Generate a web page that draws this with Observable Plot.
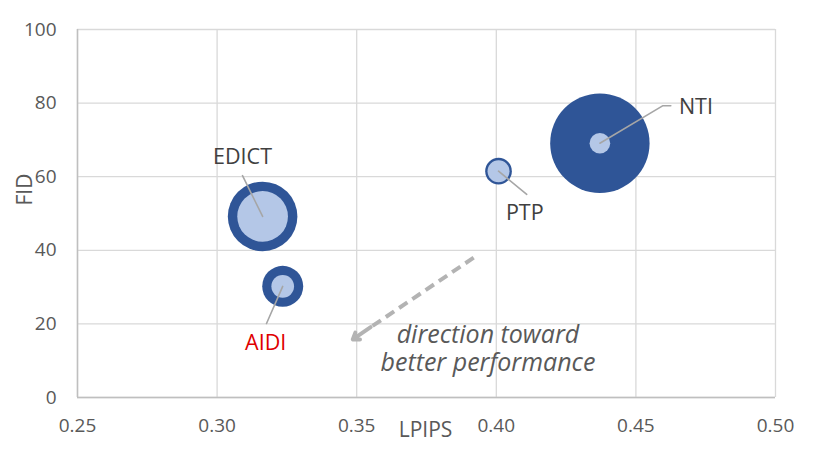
<!DOCTYPE html>
<html>
<head>
<meta charset="utf-8">
<script src="https://cdn.jsdelivr.net/npm/d3@7"></script>
<script src="https://cdn.jsdelivr.net/npm/@observablehq/plot@0.6"></script>
<style>
  html, body { margin: 0; padding: 0; background: #fff; }
  #chart svg { display: block; }
</style>
</head>
<body>
<div id="chart"></div>
<script>
// ---- data ----
const methods = ["EDICT", "AIDI", "PTP", "NTI"];
const lpips = [0.3163, 0.3235, 0.4008, 0.4371];
const fid = [49.2, 30.2, 61.5, 69.1];
const outerSize = [49, 17, 7.2, 100];   // dark bubble size
const innerSize = [26, 5.2, 4.9, 4.3];  // light bubble size
const labelColors = ["#404040", "#E00000", "#404040", "#404040"];
const xTicks = [0.25, 0.30, 0.35, 0.40, 0.45, 0.50];
const yTicks = [0, 20, 40, 60, 80, 100];

// annotation anchors (data units)
const labelX = [0.3091, 0.3174, 0.4102, 0.4715];
const labelY = [65.2, 14.7, 50.0, 78.8];
const leaderX = [[0.3091, 0.3163], [0.3177, 0.3235], [0.4109, 0.4008], [0.4625, 0.4597, 0.4371]];
const leaderY = [[60.3, 49.2], [20.1, 30.2], [55.2, 61.5], [79.3, 79.3, 69.1]];
const arrowFrom = [0.3919, 38.0];
const arrowMid = [0.3550, 19.1];
const arrowTo = [0.3486, 15.8];
const noteLines = ["direction toward", "better performance"];
const noteX = 0.3970;
const noteY = [17.1, 9.4];

const points = methods.map((m, i) => ({
  method: m, x: lpips[i], y: fid[i], outer: outerSize[i], inner: innerSize[i],
  lx: labelX[i], ly: labelY[i], color: labelColors[i]
}));
const leaders = leaderX.flatMap((xs, i) => xs.map((x, j) => ({ g: i, x, y: leaderY[i][j] })));
const notes = noteLines.map((t, i) => ({ t, x: noteX, y: noteY[i] }));

const font = "'Open Sans', 'Noto Sans', sans-serif";

const chart = Plot.plot({
  width: 825,
  height: 457,
  marginLeft: 77,
  marginRight: 50,
  marginTop: 29,
  marginBottom: 60,
  style: { fontFamily: font, background: "#fff" },
  x: { domain: [0.25, 0.50] },
  y: { domain: [0, 100] },
  r: { type: "sqrt", domain: [0, 100], range: [0, 49.7] },
  marks: [
    Plot.gridX(xTicks, { stroke: "#d9d9d9", strokeOpacity: 1, strokeWidth: 1.3 }),
    Plot.gridY(yTicks, { stroke: "#d9d9d9", strokeOpacity: 1, strokeWidth: 1.3 }),
    Plot.ruleY([0], { stroke: "#bfbfbf", strokeWidth: 1.5 }),
    Plot.ruleX([0.25], { stroke: "#bfbfbf", strokeWidth: 1.5 }),
    Plot.axisX(xTicks, {
      tickSize: 0, tickPadding: 21, fontSize: 19, fill: "#595959",
      tickFormat: d3.format(".2f"), label: null
    }),
    Plot.axisY(yTicks, {
      tickSize: 0, tickPadding: 21, fontSize: 19, fill: "#595959", label: null
    }),
    Plot.text(["LPIPS"], { frameAnchor: "bottom", dx: -1, dy: 39, fontSize: 21, fill: "#595959" }),
    Plot.text(["FID"], { frameAnchor: "left", rotate: -90, dx: -52, dy: -8, fontSize: 21, fill: "#595959" }),
    Plot.dot(points, { x: "x", y: "y", r: "outer", fill: "#2F5597", stroke: "none" }),
    Plot.dot(points, { x: "x", y: "y", r: "inner", fill: "#B4C7E7", stroke: "none" }),
    Plot.line(leaders, { x: "x", y: "y", z: "g", stroke: "#a6a6a6", strokeWidth: 1.6 }),
    Plot.text(points, {
      x: "lx", y: "ly", text: "method", fill: "color", fontSize: 21.5
    }),
    Plot.link([{ x1: arrowFrom[0], y1: arrowFrom[1], x2: arrowMid[0], y2: arrowMid[1] }], {
      x1: "x1", y1: "y1", x2: "x2", y2: "y2", stroke: "#b3b3b3", strokeWidth: 4,
      strokeDasharray: "10,6"
    }),
    Plot.arrow([{ x1: arrowMid[0], y1: arrowMid[1], x2: arrowTo[0], y2: arrowTo[1] }], {
      x1: "x1", y1: "y1", x2: "x2", y2: "y2", stroke: "#b3b3b3", strokeWidth: 4,
      headLength: 12, headAngle: 70, bend: 0
    }),
    Plot.text(notes, {
      x: "x", y: "y", text: "t", fontSize: 25, fontStyle: "italic", fill: "#595959"
    })
  ]
});
document.getElementById("chart").appendChild(chart);
</script>
</body>
</html>
